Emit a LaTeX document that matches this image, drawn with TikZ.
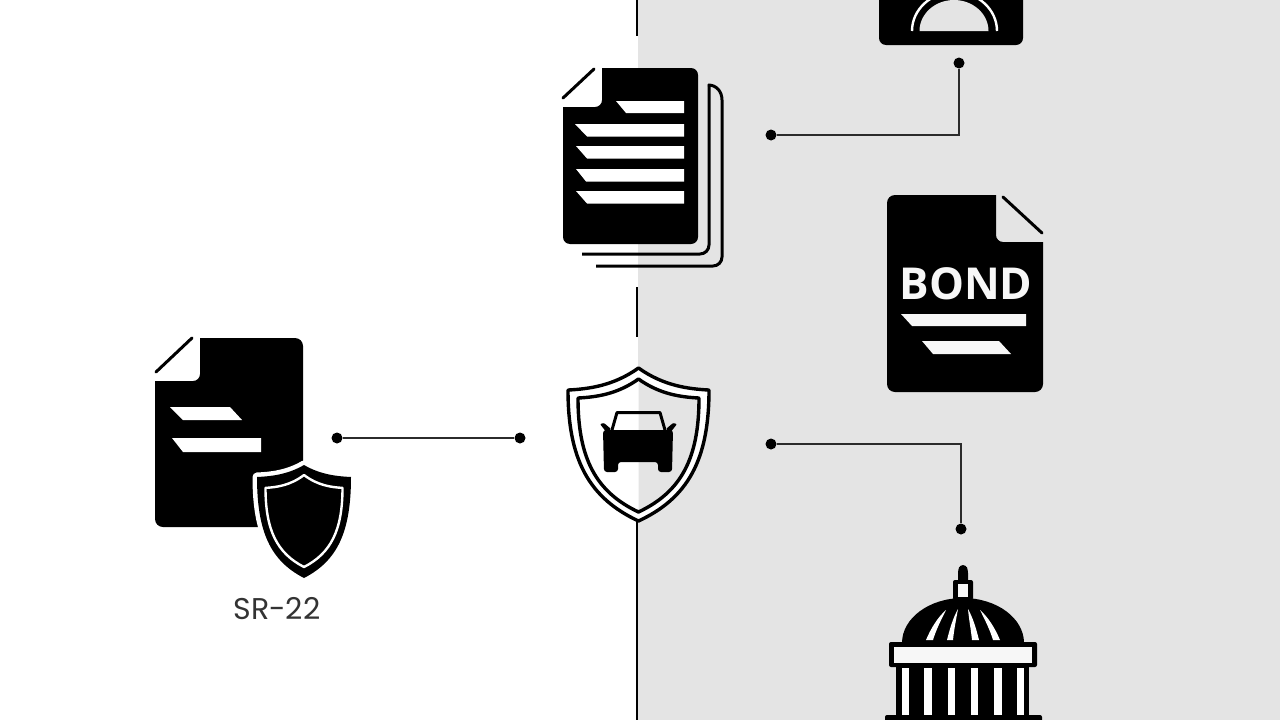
\documentclass[tikz,border=0pt]{standalone}
\usepackage{fontspec}
\setmainfont{Liberation Sans}
\newfontfamily\labelfont{Poppins}
\newfontfamily\bondfont{Open Sans}
\definecolor{ink}{HTML}{000000}
\definecolor{panel}{HTML}{E4E4E4}
\definecolor{wire}{HTML}{2B2B2B}
\definecolor{labelgray}{HTML}{333333}
\newcommand{\shieldshape}[1]{(0,0) .. controls (-.35,.8*#1) and (-.7,.95*#1) .. (-1,#1) .. controls (-1,.6) and (-.7,.85) .. (0,1) .. controls (.7,.85) and (1,.6) .. (1,#1) .. controls (.7,.95*#1) and (.35,.8*#1) .. (0,0) -- cycle}
\tikzset{
  dotnode/.style={circle,fill=ink,inner sep=0pt,minimum size=11pt},
  wireline/.style={draw=wire,line width=2.2pt},
  divider/.style={draw=ink,line width=2.4pt},
  solid ink/.style={fill=ink},
  page line/.style={draw=ink,line width=3pt,line join=round},
  fold line/.style={draw=ink,line width=3pt,line cap=round},
}
\begin{document}
\begin{tikzpicture}[x=1pt,y=-1pt]
\useasboundingbox (0,0) rectangle (1280,720);
\fill[white] (0,0) rectangle (638,720);
\fill[panel] (638,0) rectangle (1280,720);
\clip (0,0) rectangle (1280,720);
% divider
\draw[divider] (637,0) -- (637,36);
\draw[divider] (637,287) -- (637,337);
\draw[divider] (637,521) -- (637,720);

% document stack
\draw[page line] (709,84) -- (709,245) arc[start angle=0,end angle=90,radius=9] -- (582,254);
\draw[page line] (708,85) .. controls (717,85) and (722,92) .. (722,100) -- (722,257) arc[start angle=0,end angle=90,radius=9] -- (596,266);
\fill[solid ink] (650,68) [rounded corners=7pt] -- (698,68) -- (698,244) -- (563,244) [sharp corners] -- (563,107) [rounded corners=7pt] -- (602,107) [sharp corners] -- (602,68) -- cycle;
\draw[fold line] (594,69) -- (563,98);
\foreach \y/\xa/\xb in {124/575/587,146/576/587,169/576/586,191/576/587}
  \fill[white] (\xa,\y) -- (684,\y) -- (684,\y+12.5) -- (\xb,\y+12.5) -- cycle;
\fill[white] (616,101) -- (684,101) -- (684,113) -- (626,113) -- cycle;

% top icon
\fill[solid ink,rounded corners=7pt] (879,-20) -- (1023,-20) -- (1023,45) -- (879,45) -- cycle;
\fill[panel] (919.5,31) arc[start angle=180,end angle=360,x radius=34.5,y radius=31] -- cycle;
\draw[white,line width=2.4pt] (912,31) arc[start angle=180,end angle=360,x radius=42.5,y radius=39];

% bond document
\fill[solid ink] (940,195) [rounded corners=8pt] -- (887,195) -- (887,392) -- (1043,392) [sharp corners] -- (1043,242) [rounded corners=7pt] -- (996,242) [sharp corners] -- (996,195) -- cycle;
\draw[fold line] (1003,197) -- (1042,233);
\node[text=panel!30!white,font=\bondfont\bfseries\fontsize{44}{44}\selectfont,inner sep=0pt] (bondlabel) at (966,284) {BOND};
\fill[panel!30!white] (901,314) -- (1026,314) -- (1026,326) -- (912,326) -- cycle;
\fill[panel!30!white] (922,341) -- (999,341) -- (1011,354) -- (933,354) -- cycle;

% SR-22 document
\fill[solid ink] (250,338) [rounded corners=8pt] -- (303,338) -- (303,527) -- (155,527) [sharp corners] -- (155,381) [rounded corners=7pt] -- (200,381) [sharp corners] -- (200,338) -- cycle;
\draw[fold line] (156,372) -- (192,338);
\fill[white] (170,407) -- (230,407) -- (242,420) -- (183,420) -- cycle;
\fill[white] (172,438) -- (261,438) -- (261,452) -- (183,452) -- cycle;
\begin{scope}[shift={(304,465)},xscale=47,yscale=113]
  \fill[white,draw=white,line width=9pt,line join=round] \shieldshape{.106};
  \fill[solid ink] \shieldshape{.106};
\end{scope}
\begin{scope}[shift={(304,475)},xscale=38.5,yscale=92]
  \draw[white,line width=2.4pt,line join=round] \shieldshape{.14};
\end{scope}
\node[text=labelgray,font=\labelfont\fontsize{30}{30}\selectfont,inner sep=0pt] (srlabel) at (277,609) {SR-22};

% centre shield
\begin{scope}[shift={(638.5,368)},xscale=70.5,yscale=153]
  \fill[white] \shieldshape{.144};
  \draw[ink,line width=3.4pt,line join=round] \shieldshape{.144};
\end{scope}
\begin{scope}[shift={(638.5,379)},xscale=60.5,yscale=133]
  \fill[white] \shieldshape{.143};
  \begin{scope}
    \clip (-.0,-.1) rectangle (1.2,1.1);
    \fill[panel] \shieldshape{.143};
  \end{scope}
  \draw[ink,line width=3.4pt,line join=round] \shieldshape{.143};
\end{scope}
% car
\draw[ink,line width=3pt,line join=round] (612,430) -- (617,412.5) -- (660,412.5) -- (665,430);
\fill[solid ink,rounded corners=3pt] (603,430) -- (673,430) -- (672,472) -- (658,472) -- (658,462) -- (618,462) -- (618,472) -- (604,472) -- cycle;
\fill[solid ink,rounded corners=1pt] (600,424) -- (604,423) -- (611,429) -- (607,433) -- cycle;
\fill[solid ink,rounded corners=1pt] (677,424) -- (673,423) -- (666,429) -- (670,433) -- cycle;

% capitol
\fill[solid ink,rounded corners=3pt] (958,583) -- (958,570) -- (960,565) -- (966,565) -- (968,570) -- (968,583) -- cycle;
\fill[solid ink,rounded corners=2pt] (953,580) -- (973,580) -- (973,600) -- (953,600) -- cycle;
\fill[panel!30!white] (958,584) rectangle (968,597);
\fill[solid ink] (902,643) arc[start angle=180,end angle=360,x radius=61,y radius=45] -- cycle;
\fill[white] (926,640) .. controls (931,628) and (938,617) .. (946,610) .. controls (941,620) and (936,630) .. (933,640) -- cycle;
\fill[white] (947,640) .. controls (950,628) and (953,618) .. (958,609) .. controls (956,620) and (954,630) .. (953,640) -- cycle;
\fill[white] (979,640) .. controls (976,628) and (973,618) .. (968,609) .. controls (969,620) and (971,630) .. (972,640) -- cycle;
\fill[white] (1000,640) .. controls (995,628) and (988,617) .. (980,610) .. controls (985,620) and (990,630) .. (993,640) -- cycle;
\fill[solid ink,rounded corners=2pt] (889,642) -- (1037,642) -- (1037,667) -- (889,667) -- cycle;
\fill[panel!30!white] (894,647) rectangle (1032,663);
\fill[solid ink] (896,667) rectangle (1029,716);
\foreach \xa/\xb in {902/909,924/932,948/955,971/978,994/1002,1017/1024}
  \fill[white] (\xa,668) rectangle (\xb,715);
\fill[solid ink,rounded corners=2pt] (885,715) -- (1042,715) -- (1042,730) -- (885,730) -- cycle;

% connectors
\node[dotnode] (srdot) at (337,438) {};
\node[dotnode] (shielddot) at (520,438) {};
\node[dotnode] (stackdot) at (771,135) {};
\node[dotnode] (topdot) at (959,63) {};
\node[dotnode] (lowerdot) at (771,444) {};
\node[dotnode] (capdot) at (961,529) {};
\draw[wireline] (srdot) -- (shielddot);
\draw[wireline] (stackdot) -| (topdot);
\draw[wireline] (lowerdot) -| (capdot);
\end{tikzpicture}
\end{document}
